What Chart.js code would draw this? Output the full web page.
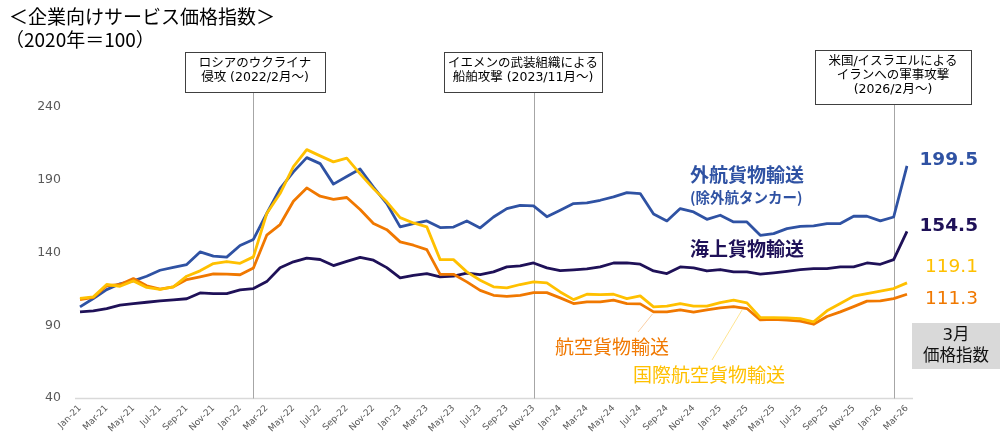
<!DOCTYPE html>
<html><head><meta charset="utf-8">
<script src="https://cdn.jsdelivr.net/npm/chart.js@4.4.1/dist/chart.umd.min.js"></script>
<style>html,body{margin:0;padding:0;background:#fff}#wrap{position:relative;width:1000px;height:445px}</style>
</head><body><div id="wrap"><canvas id="c" width="1000" height="445"></canvas></div>
<script>
const categories = [
 'Jan-21','Feb-21','Mar-21','Apr-21','May-21','Jun-21','Jul-21','Aug-21','Sep-21','Oct-21','Nov-21','Dec-21',
 'Jan-22','Feb-22','Mar-22','Apr-22','May-22','Jun-22','Jul-22','Aug-22','Sep-22','Oct-22','Nov-22','Dec-22',
 'Jan-23','Feb-23','Mar-23','Apr-23','May-23','Jun-23','Jul-23','Aug-23','Sep-23','Oct-23','Nov-23','Dec-23',
 'Jan-24','Feb-24','Mar-24','Apr-24','May-24','Jun-24','Jul-24','Aug-24','Sep-24','Oct-24','Nov-24','Dec-24',
 'Jan-25','Feb-25','Mar-25','Apr-25','May-25','Jun-25','Jul-25','Aug-25','Sep-25','Oct-25','Nov-25','Dec-25',
 'Jan-26','Feb-26','Mar-26'];

// 外航貨物輸送(除外航タンカー)
const oceanFreight = [
 102.6,108.4,114.5,118.5,120.5,123.7,127.8,129.7,131.7,140.4,137.5,136.8,
 144.8,149.0,166.8,183.9,195.4,205.2,201.1,187.0,192.2,197.4,185.0,173.6,
 157.6,159.9,161.7,157.1,157.5,161.7,156.9,164.4,170.2,172.4,172.0,164.6,
 169.0,173.6,174.1,175.9,178.2,181.1,180.5,166.5,161.7,170.2,167.9,162.8,
 165.6,161.0,161.0,151.8,153.0,156.4,158.0,158.3,159.9,159.9,164.9,164.9,
 161.7,164.4,199.5];
// 海上貨物輸送
const seaFreight = [
 99.2,99.9,101.5,103.8,104.9,105.8,106.8,107.5,108.2,112.2,111.8,111.8,
 114.3,115.2,120.0,129.5,133.6,136.1,135.2,131.0,133.9,136.7,134.7,129.6,
 122.5,124.3,125.5,123.2,123.7,125.8,124.8,126.7,130.1,130.8,132.8,129.4,
 127.6,128.1,128.7,130.1,132.8,132.8,132.0,127.3,125.5,130.1,129.4,127.3,
 128.3,126.7,126.7,125.1,126.0,127.1,128.3,128.9,128.9,130.1,130.1,132.8,
 131.9,135.1,154.5];
// 航空貨物輸送
const airFreight = [
 107.7,109.1,117.1,118.0,122.1,117.1,114.8,116.4,121.4,123.3,125.3,125.1,
 124.7,129.4,151.9,159.2,175.2,184.4,178.7,176.5,177.8,169.5,159.9,155.7,
 147.3,145.0,142.0,125.0,125.0,119.8,114.0,110.6,109.9,110.6,112.4,112.4,
 108.8,104.9,106.0,106.0,107.2,104.9,104.7,99.2,99.2,100.5,99.0,100.5,
 102.0,102.8,101.5,93.7,94.0,93.5,92.8,90.7,96.0,99.2,102.8,106.6,
 106.7,108.3,111.3];
// 国際航空貨物輸送
const intlAirFreight = [
 108.4,109.5,118.0,116.8,120.5,116.0,114.6,116.4,123.7,127.4,132.4,133.8,
 132.6,137.0,166.8,180.5,199.0,210.7,206.4,202.3,204.8,194.0,183.9,174.8,
 164.0,160.3,157.6,135.1,135.1,126.7,120.9,116.4,115.7,118.0,119.8,119.1,
 112.9,107.6,111.3,111.1,111.3,108.3,110.2,102.6,103.1,104.9,103.1,103.1,
 105.6,107.2,105.4,95.3,95.3,95.1,94.6,92.3,99.9,104.9,110.0,111.8,
 113.4,115.2,119.1];

const yTicks = [40, 90, 140, 190, 240];

const C_BLUE = '#2F52A3', C_NAVY = '#1F1158', C_ORANGE = '#F07800', C_YELLOW = '#FFC000';
const JP = "'Noto Sans CJK JP'";
const MIX = "'DejaVu Sans', 'Noto Sans CJK JP'";

const events = [
 {index: 13, lines: ['ロシアのウクライナ', '侵攻 (2022/2月～)'], box: [185, 52, 140, 40]},
 {index: 34, lines: ['イエメンの武装組織による', '船舶攻撃 (2023/11月～)'], box: [444, 52, 158, 40]},
 {index: 61, lines: ['米国/イスラエルによる', 'イランへの軍事攻撃', '(2026/2月～)'], box: [815, 50, 156, 54]}
];

const overlay = {
  id: 'overlay',
  beforeDatasetsDraw(chart) {
    const ctx = chart.ctx, xs = chart.scales.x, ys = chart.scales.y;
    ctx.save();
    const yb = Math.round(ys.getPixelForValue(yTicks[0])) + 0.5;
    ctx.strokeStyle = '#D9D9D9'; ctx.lineWidth = 1.5;
    ctx.beginPath(); ctx.moveTo(xs.left - 5, yb); ctx.lineTo(xs.right + 6, yb); ctx.stroke();
    ctx.strokeStyle = '#A6A6A6'; ctx.lineWidth = 1;
    events.forEach(e => {
      const x = Math.round(xs.getPixelForValue(e.index)) + 0.5;
      ctx.beginPath(); ctx.moveTo(x, e.box[1] + e.box[3]); ctx.lineTo(x, yb); ctx.stroke();
    });
    ctx.lineWidth = 0.8;
    ctx.strokeStyle = 'rgba(240,120,0,0.45)';
    ctx.beginPath(); ctx.moveTo(638, 332); ctx.lineTo(xs.getPixelForValue(43) - 1, ys.getPixelForValue(airFreight[43]) + 2); ctx.stroke();
    ctx.strokeStyle = 'rgba(255,192,0,0.55)';
    ctx.beginPath(); ctx.moveTo(712, 360); ctx.lineTo(742, 310); ctx.stroke();
    ctx.restore();
  },
  afterDraw(chart) {
    const ctx = chart.ctx, ys = chart.scales.y;
    ctx.save();
    ctx.textBaseline = 'middle';
    ctx.fillStyle = '#000'; ctx.textAlign = 'left';
    ctx.font = '19px ' + JP;
    ctx.fillText('＜企業向けサービス価格指数＞', 9, 17);
    ctx.fillText('（2020年＝100）', 5, 40);
    events.forEach(e => {
      const [bx, by, bw, bh] = e.box;
      ctx.fillStyle = '#fff'; ctx.fillRect(bx, by, bw, bh);
      ctx.strokeStyle = '#404040'; ctx.lineWidth = 1;
      ctx.strokeRect(bx + 0.5, by + 0.5, bw, bh);
      ctx.fillStyle = '#000'; ctx.textAlign = 'center';
      ctx.font = '12.5px ' + MIX;
      const lh = 14.2;
      const y0 = by + bh / 2 - (e.lines.length - 1) * lh / 2 - 1;
      e.lines.forEach((t, k) => ctx.fillText(t, bx + bw / 2, y0 + k * lh));
    });
    ctx.textAlign = 'left';
    ctx.fillStyle = C_BLUE; ctx.font = 'bold 19px ' + JP;
    ctx.fillText('外航貨物輸送', 690, 175);
    ctx.font = 'bold 14.5px ' + JP;
    ctx.fillText('(除外航タンカー)', 690, 197);
    ctx.fillStyle = C_NAVY; ctx.font = 'bold 19px ' + JP;
    ctx.fillText('海上貨物輸送', 690, 249);
    ctx.fillStyle = C_ORANGE; ctx.font = '19px ' + JP;
    ctx.fillText('航空貨物輸送', 555, 347);
    ctx.fillStyle = C_YELLOW;
    ctx.fillText('国際航空貨物輸送', 633, 375);
    const last = categories.length - 1;
    const ends = [
      {v: oceanFreight[last], c: C_BLUE, bold: true, dy: -6},
      {v: seaFreight[last], c: C_NAVY, bold: true, dy: -5},
      {v: intlAirFreight[last], c: C_YELLOW, bold: false, dy: -16},
      {v: airFreight[last], c: C_ORANGE, bold: false, dy: 5}
    ];
    ctx.textAlign = 'right';
    ends.forEach(o => {
      ctx.fillStyle = o.c;
      ctx.font = (o.bold ? 'bold ' : '') + '18.5px ' + MIX;
      ctx.fillText(o.v.toFixed(1), 978, ys.getPixelForValue(o.v) + o.dy);
    });
    ctx.fillStyle = '#D9D9D9'; ctx.fillRect(912, 323, 88, 46);
    ctx.fillStyle = '#111'; ctx.textAlign = 'center'; ctx.font = '16.5px ' + MIX;
    ctx.fillText('3月', 956, 336);
    ctx.fillText('価格指数', 956, 357);
    ctx.restore();
  }
};

const mk = (label, data, color) => ({label, data, borderColor: color, backgroundColor: color,
  borderWidth: 2.8, pointRadius: 0, tension: 0, borderJoinStyle: 'round', fill: false});

new Chart(document.getElementById('c'), {
  type: 'line',
  data: {
    labels: categories,
    datasets: [
      mk('国際航空貨物輸送', intlAirFreight, C_YELLOW),
      mk('航空貨物輸送', airFreight, C_ORANGE),
      mk('海上貨物輸送', seaFreight, C_NAVY),
      mk('外航貨物輸送', oceanFreight, C_BLUE)
    ]
  },
  options: {
    responsive: false, animation: false, devicePixelRatio: 1,
    layout: {padding: {top: 107, right: 93, bottom: 0, left: 0}},
    plugins: {legend: {display: false}, tooltip: {enabled: false}, title: {display: false}},
    scales: {
      x: {
        type: 'category', offset: false,
        grid: {display: false, drawTicks: false}, border: {display: false},
        ticks: {autoSkip: false, maxRotation: 45, minRotation: 45, padding: 5,
          color: '#595959', font: {family: 'DejaVu Sans', size: 9},
          callback: function(v, i) { return i % 2 === 0 ? this.getLabelForValue(v) : ''; }},
        afterFit(s) { s.height = 47; }
      },
      y: {
        min: yTicks[0], max: yTicks[yTicks.length - 1],
        grid: {display: false, drawTicks: false}, border: {display: false},
        afterBuildTicks(s) { s.ticks = yTicks.map(v => ({value: v})); },
        ticks: {padding: 19, color: '#595959', font: {family: 'DejaVu Sans', size: 12.5}},
        afterFit(s) { s.width = 80; }
      }
    }
  },
  plugins: [overlay]
});
</script>
</body></html>
